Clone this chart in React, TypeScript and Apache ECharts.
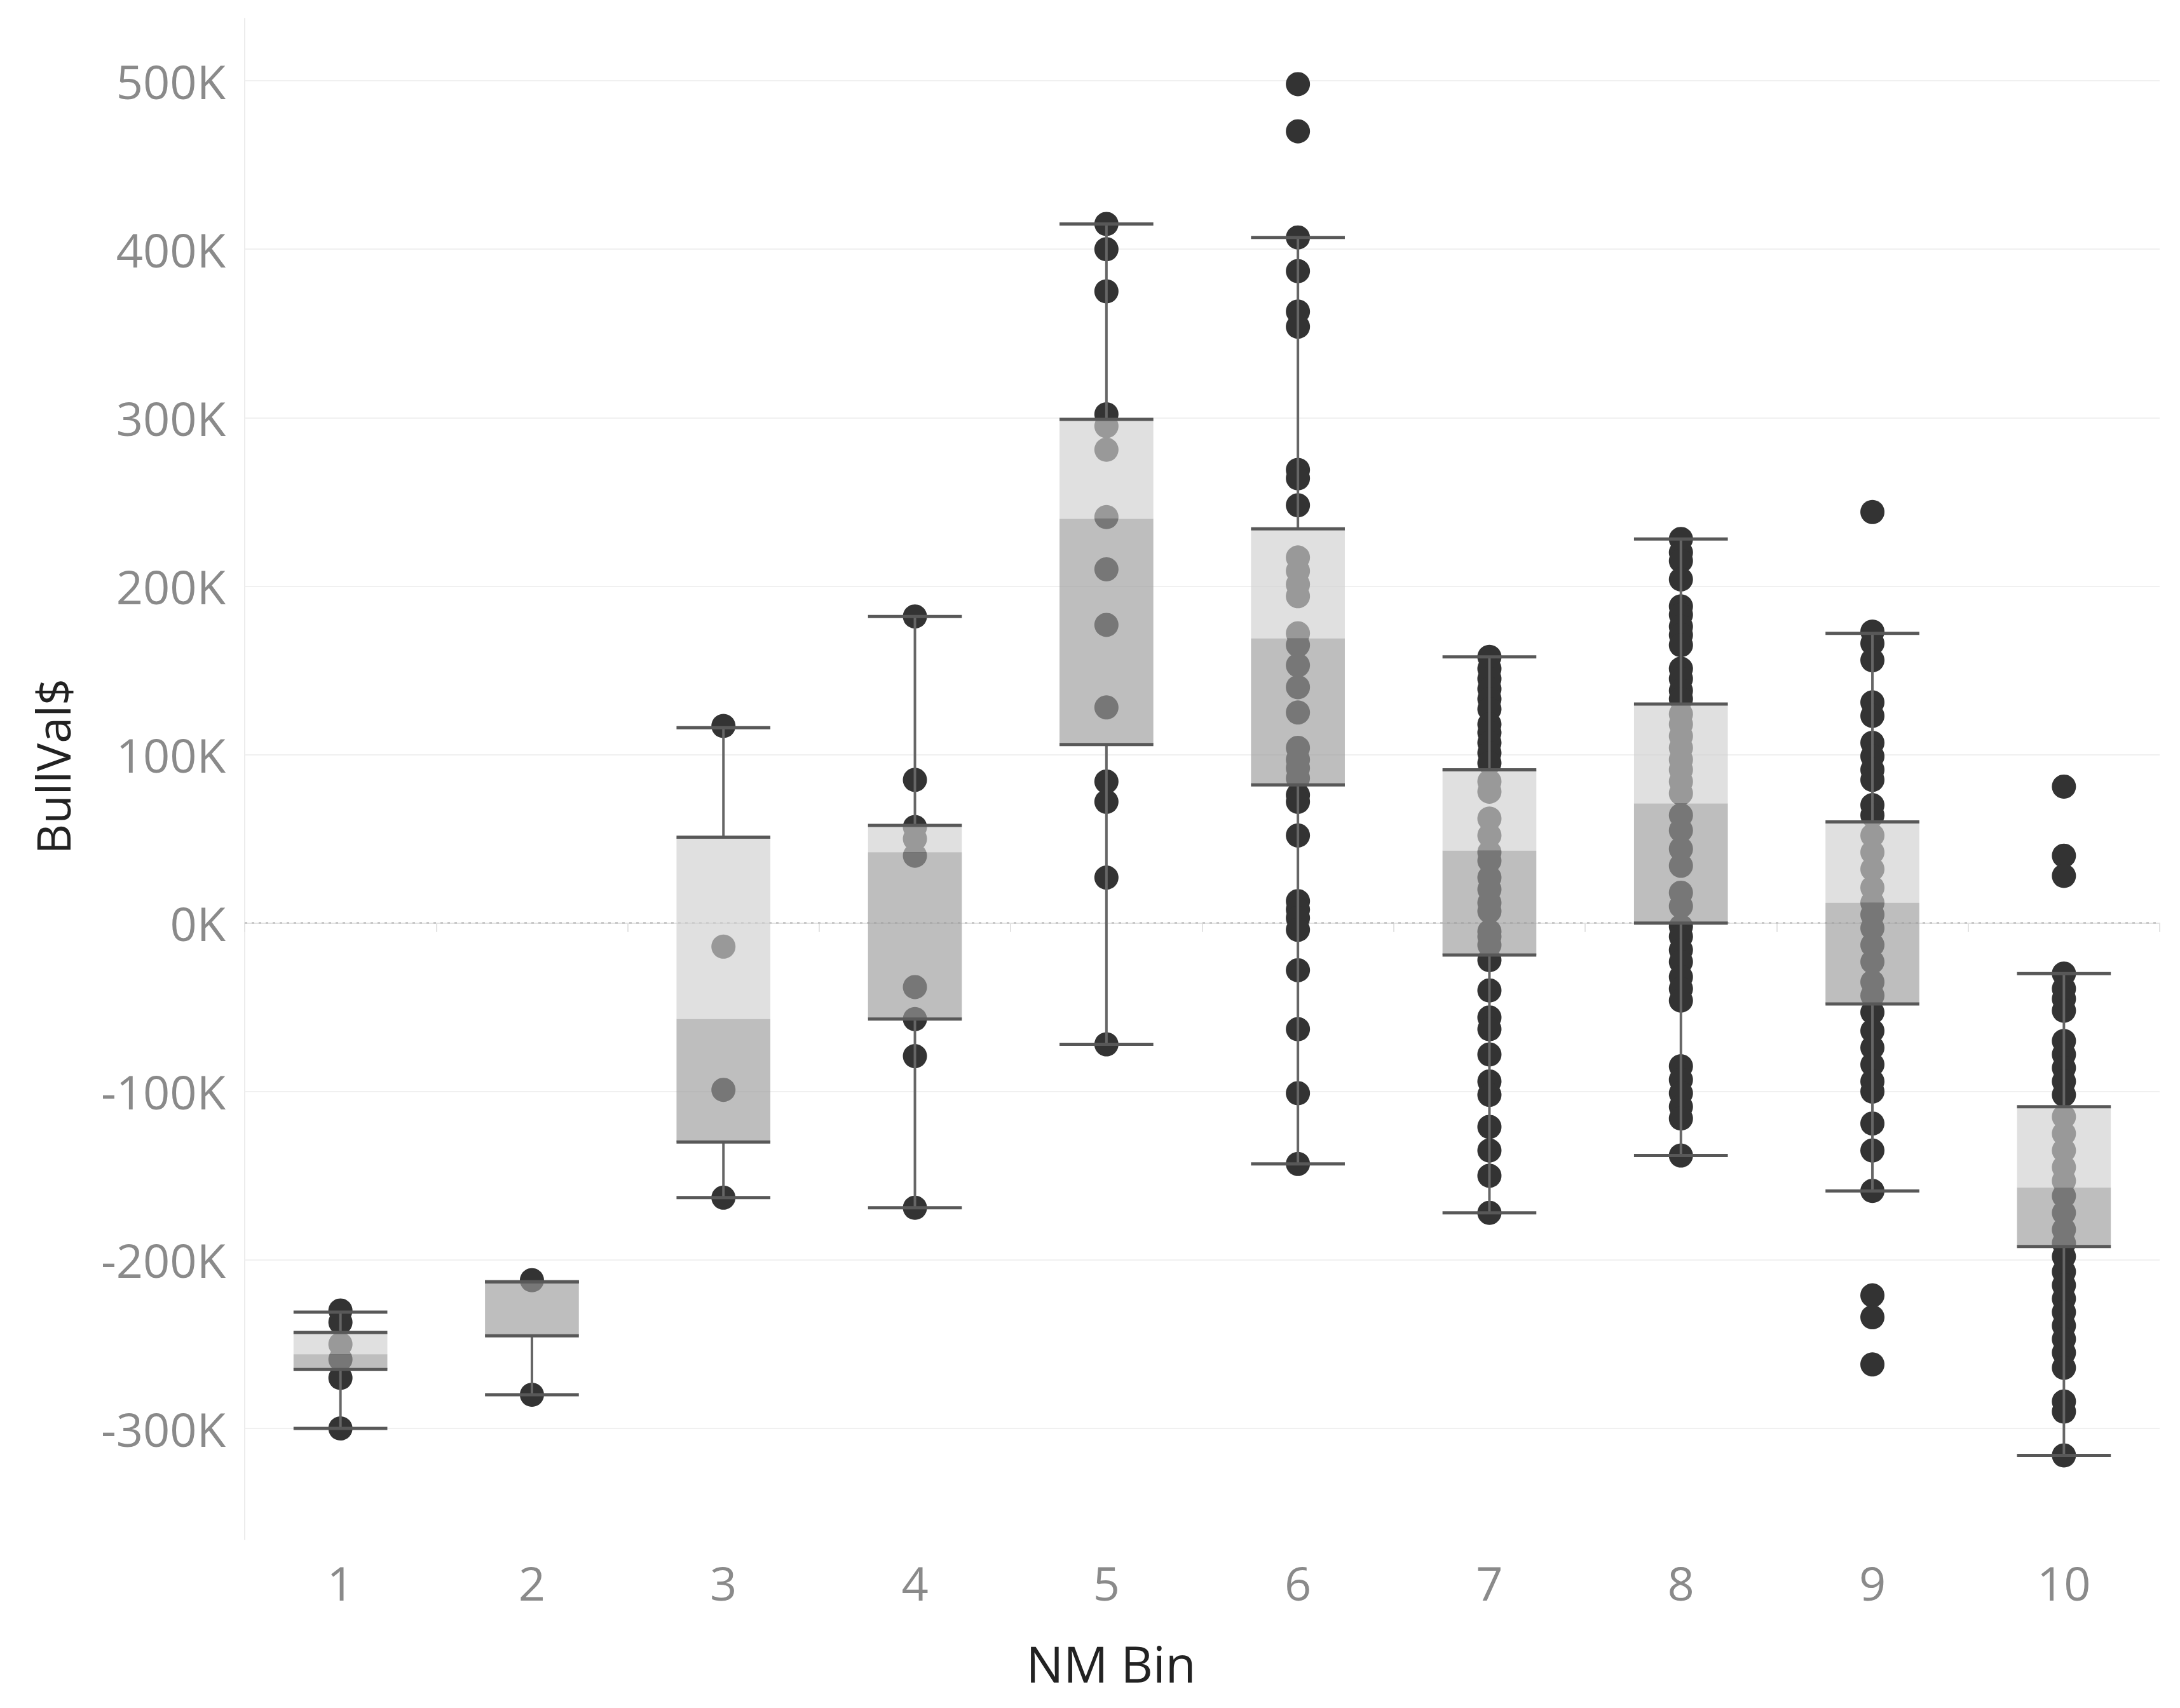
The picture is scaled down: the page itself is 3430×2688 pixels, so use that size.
import React, { useEffect, useRef } from "react";
import * as echarts from "echarts";

const categories = ["1", "2", "3", "4", "5", "6", "7", "8", "9", "10"];
const yTicks = [-300, -200, -100, 0, 100, 200, 300, 400, 500];

// individual points per NM bin (values in K)
const bin1 = [-230, -237, -250, -259, -270, -300];
const bin2 = [-212, -280];
const bin3 = [117, -14, -99, -163];
const bin4 = [182, 85, 57, 50, 40, -38, -57, -79, -169];
const bin5 = [415, 400, 375, 302, 295, 281, 241, 210, 177, 128, 84, 72, 27, -72];
const bin6 = [498, 470, 407, 387, 363, 354, 269, 264, 248, 217, 209, 201, 194, 172, 165, 153, 140, 125, 104, 97, 92, 86, 76, 72, 52, 13, 8, 3, -4, -28, -63, -101, -143];
const bin7 = [158, 151, 145, 139, 133, 127, 118, 113, 107, 101, 95, 84, 78, 62, 52, 42, 37, 27, 20, 12, 7, -5, -8, -13, -22, -40, -56, -63, -78, -94, -102, -121, -135, -150, -172];
const bin8 = [228, 220, 215, 204, 188, 183, 176, 171, 165, 151, 145, 138, 133, 124, 118, 111, 104, 97, 91, 84, 77, 64, 55, 44, 34, 18, 10, -2, -8, -16, -23, -32, -39, -46, -85, -93, -101, -109, -116, -138];
const bin9 = [244, 173, 166, 156, 131, 123, 107, 99, 91, 85, 70, 64, 52, 42, 32, 21, 12, 5, -3, -13, -23, -35, -43, -53, -64, -74, -84, -94, -100, -119, -135, -159, -221, -234, -262];
const bin10 = [81, 40, 28, -30, -39, -45, -52, -70, -78, -86, -94, -102, -115, -125, -135, -145, -153, -162, -172, -182, -190, -198, -207, -215, -223, -231, -239, -247, -255, -264, -284, -290, -316];
const bins = [bin1, bin2, bin3, bin4, bin5, bin6, bin7, bin8, bin9, bin10];

// box plot statistics per bin (values in K)
const whiskerHigh = [-231, -213, 116, 182, 415, 407, 158, 228, 172, -30];
const upperQuartile = [-243, -213, 51, 58, 299, 234, 91, 130, 60, -109];
const medians = [-256, -213, -57, 42, 240, 169, 43, 71, 12, -157];
const lowerQuartile = [-265, -245, -130, -57, 106, 82, -19, 0, -48, -192];
const whiskerLow = [-300, -280, -163, -169, -72, -143, -172, -138, -159, -316];

const FONT = "'Open Sans', 'Noto Sans', sans-serif";
const TICK_COLOR = "#8a8a8a";

export default function App() {
  const ref = useRef<HTMLDivElement>(null);

  useEffect(() => {
    document.body.style.margin = "0";
    if (!ref.current) return;
    const chart = echarts.init(ref.current, null, { renderer: "svg" });

    const pointData: number[][] = [];
    bins.forEach((arr, i) => arr.forEach((v) => pointData.push([i, v])));

    const boxData = categories.map((_, i) => [
      i,
      whiskerLow[i],
      lowerQuartile[i],
      medians[i],
      upperQuartile[i],
      whiskerHigh[i],
    ]);

    const option: any = {
      animation: false,
      backgroundColor: "#ffffff",
      grid: { left: 385, top: 29, width: 3013, height: 2394, containLabel: false },
      xAxis: {
        type: "category",
        data: categories,
        boundaryGap: true,
        axisLine: { show: true, lineStyle: { color: "#e3e3e3", width: 2 } },
        axisTick: { show: true, length: 14, lineStyle: { color: "#e3e3e3", width: 2 } },
        axisLabel: { fontSize: 74, color: TICK_COLOR, margin: 30, fontFamily: FONT },
        splitLine: { show: false },
      },
      yAxis: {
        type: "value",
        min: -366,
        max: 537,
        axisLine: { show: true, lineStyle: { color: "#ececec", width: 2 } },
        axisTick: { show: false },
        axisLabel: { show: false },
        splitLine: { show: false },
      },
      graphic: [
        {
          type: "text",
          x: 82,
          y: 1206,
          rotation: Math.PI / 2,
          style: {
            text: "BullVal$",
            align: "center",
            verticalAlign: "middle",
            textAlign: "center",
            textVerticalAlign: "middle",
            fontSize: 74,
            fontFamily: FONT,
            fill: "#222222",
          },
        },
        {
          type: "text",
          x: 1748,
          y: 2618,
          style: {
            text: "NM Bin",
            align: "center",
            verticalAlign: "middle",
            textAlign: "center",
            textVerticalAlign: "middle",
            fontSize: 78,
            fontFamily: FONT,
            fill: "#222222",
          },
        },
      ],
      series: [
        {
          type: "line",
          data: [],
          z: 1,
          silent: true,
          markLine: {
            silent: true,
            z: 1,
            symbol: "none",
            animation: false,
            label: {
              show: true,
              position: "start",
              distance: 30,
              fontSize: 74,
              color: TICK_COLOR,
              fontFamily: FONT,
              formatter: (p: any) => `${p.value}K`,
            },
            data: yTicks.map((v) => ({
              yAxis: v,
              lineStyle:
                v === 0
                  ? { color: "#c9c9c9", width: 3, type: [4, 7] }
                  : { color: "#f0f0f0", width: 2, type: "solid" },
            })),
          },
        },
        {
          type: "scatter",
          data: pointData,
          z: 2,
          symbol: "circle",
          symbolSize: 38,
          itemStyle: { color: "#333333", opacity: 1 },
          silent: true,
        },
        {
          type: "custom",
          z: 3,
          silent: true,
          data: boxData,
          encode: { x: 0, y: [1, 2, 3, 4, 5] },
          renderItem: (params: any, api: any) => {
            const idx = api.value(0);
            const lo = api.value(1);
            const q1 = api.value(2);
            const med = api.value(3);
            const q3 = api.value(4);
            const hi = api.value(5);
            const band = api.size([1, 0])[0];
            const w = band * 0.49;
            const x = api.coord([idx, med])[0];
            const yLo = api.coord([idx, lo])[1];
            const yQ1 = api.coord([idx, q1])[1];
            const yMed = api.coord([idx, med])[1];
            const yQ3 = api.coord([idx, q3])[1];
            const yHi = api.coord([idx, hi])[1];
            const children: any[] = [];
            if (yMed - yQ3 > 0.5) {
              children.push({
                type: "rect",
                shape: { x: x - w / 2, y: yQ3, width: w, height: yMed - yQ3 },
                style: { fill: "rgba(208,208,208,0.655)" },
              });
            }
            if (yQ1 - yMed > 0.5) {
              children.push({
                type: "rect",
                shape: { x: x - w / 2, y: yMed, width: w, height: yQ1 - yMed },
                style: { fill: "rgba(155,155,155,0.655)" },
              });
            }
            const wStyle = { stroke: "#666666", lineWidth: 4 };
            const eStyle = { stroke: "#585858", lineWidth: 5 };
            if (yQ3 - yHi > 0.5) {
              children.push({ type: "line", shape: { x1: x, y1: yHi, x2: x, y2: yQ3 }, style: wStyle });
            }
            if (yLo - yQ1 > 0.5) {
              children.push({ type: "line", shape: { x1: x, y1: yQ1, x2: x, y2: yLo }, style: wStyle });
            }
            [yHi, yQ3, yQ1, yLo].forEach((yy) => {
              children.push({
                type: "line",
                shape: { x1: x - w / 2, y1: yy, x2: x + w / 2, y2: yy },
                style: eStyle,
              });
            });
            return { type: "group", children };
          },
        },
      ],
    };

    chart.setOption(option);
    return () => chart.dispose();
  }, []);

  return <div ref={ref} style={{ width: 3430, height: 2688 }} />;
}
